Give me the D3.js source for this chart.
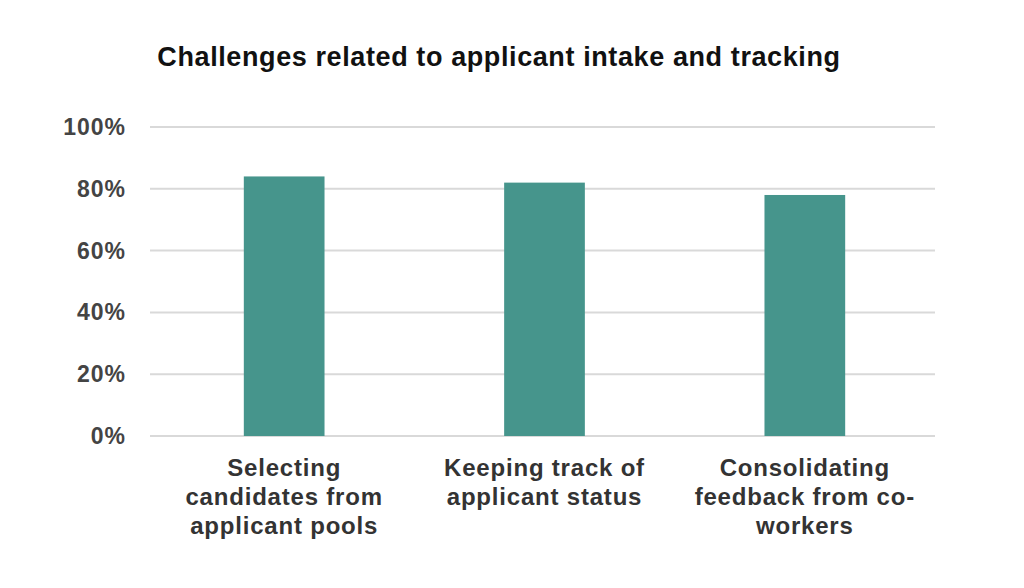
<!DOCTYPE html><html><head><script src="https://cdn.jsdelivr.net/npm/d3@7"></script>
<style>body{margin:0;background:#fff}svg{font-family:"Liberation Sans",Arial,sans-serif;font-weight:bold}</style></head><body>
<svg id="c" width="1024" height="588"></svg>
<script>
const categories=[["Selecting","candidates from","applicant pools"],["Keeping track of","applicant status"],["Consolidating","feedback from co-","workers"]];
const values=[0.84,0.82,0.78];
const ticks=[0,0.2,0.4,0.6,0.8,1];
const svg=d3.select("#c");
const x=d3.scaleBand().domain(d3.range(3)).range([154,935]).paddingInner(0.69).paddingOuter(0.345);
const y=d3.scaleLinear().domain([0,1]).range([436,127]);
svg.append("text").attr("x",499).attr("y",66).attr("text-anchor","middle").attr("font-size",27).attr("letter-spacing",0.6).attr("fill","#111").text("Challenges related to applicant intake and tracking");
svg.selectAll(".g").data(ticks).join("line").attr("x1",150).attr("x2",935).attr("y1",d=>y(d)).attr("y2",d=>y(d)).attr("stroke","#d9d9d9").attr("stroke-width",2);
svg.selectAll(".t").data(ticks).join("text").attr("x",126).attr("y",d=>y(d)+8).attr("text-anchor","end").attr("font-size",23).attr("letter-spacing",1).attr("fill","#444").text(d3.format(".0%"));
svg.selectAll(".b").data(values).join("rect").attr("x",(d,i)=>x(i)).attr("width",x.bandwidth()).attr("y",d=>y(d)).attr("height",d=>y(0)-y(d)).attr("fill","#46958c");
categories.forEach((c,i)=>{const t=svg.append("text").attr("text-anchor","middle").attr("font-size",24).attr("letter-spacing",0.8).attr("fill","#333");
c.forEach((l,j)=>t.append("tspan").attr("x",x(i)+x.bandwidth()/2).attr("y",476+j*29).text(l));});
</script></body></html>
